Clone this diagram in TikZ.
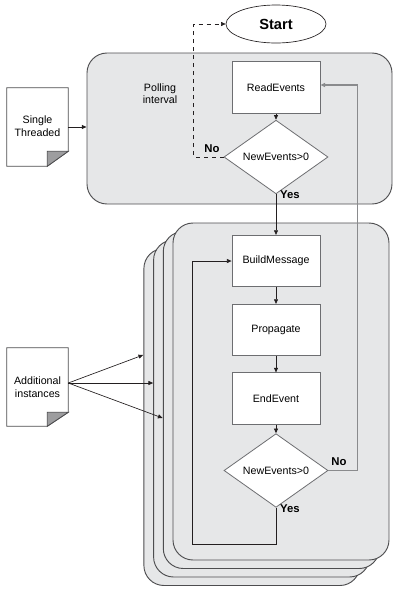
\documentclass[tikz,border=0pt]{standalone}
\usepackage{fontspec}
\setmainfont{Liberation Sans}
\usetikzlibrary{shapes.geometric,arrows.meta,calc}
\definecolor{panelfill}{HTML}{E6E7E8}
\definecolor{panelline}{HTML}{4D4D4F}
\definecolor{boxline}{HTML}{6D6E71}
\definecolor{ink}{HTML}{231F20}
\definecolor{backline}{HTML}{8A8B8D}
\definecolor{foldgray}{HTML}{9D9D9F}
\tikzset{
  panel/.style={draw=panelline, fill=panelfill, line width=0.7pt, rounded corners=15pt, inner sep=0pt},
  stepbox/.style={draw=boxline, fill=white, line width=0.6pt, minimum width=66pt, minimum height=38.5pt, inner sep=0pt, font=\fontsize{8}{10}\selectfont},
  decision/.style={diamond, draw=boxline, fill=white, line width=0.6pt, minimum width=78pt, minimum height=43.5pt, inner sep=0pt, font=\fontsize{8}{10}\selectfont},
  startnode/.style={ellipse, draw=ink, fill=white, line width=0.5pt, minimum width=75pt, minimum height=28.5pt, inner sep=0pt, font=\fontsize{11}{13}\selectfont\bfseries},
  doctext/.style={minimum width=45.75pt, minimum height=58.5pt, inner sep=0pt, align=center, font=\fontsize{8}{9.75}\selectfont},
  docline/.style={draw=panelline, fill=white, line width=0.6pt},
  flow/.style={draw=ink, line width=0.5pt, -{Triangle[length=3.5pt,width=3pt]}},
  tag/.style={font=\fontsize{8.5}{10}\selectfont\bfseries, inner sep=0pt},
  plain/.style={font=\fontsize{8}{9}\selectfont, align=center, inner sep=0pt}
}
\begin{document}
\begin{tikzpicture}[x=0.75pt,y=-0.75pt]
\useasboundingbox (0,0) rectangle (400,594);
% top panel
\node[panel, minimum width=228.75pt, minimum height=113.25pt] (top) at (239.5,128.5) {};
% stacked panels (back to front)
\node[panel, minimum width=162pt, minimum height=252.75pt] (s4) at (251.9,417) {};
\node[panel, minimum width=162pt, minimum height=252.75pt] (s3) at (261.6,408.5) {};
\node[panel, minimum width=162pt, minimum height=252.75pt] (s2) at (271.3,400) {};
\node[panel, minimum width=162pt, minimum height=252.75pt] (s1) at (281,391.5) {};
% start
\node[startnode] (start) at (276,24) {Start};
% polling label
\node[plain] (poll) at (160,94) {Polling\\interval};
% flow boxes
\node[stepbox] (re) at (276,87.5) {ReadEvents};
\node[decision] (d1) at (276,157) {NewEvents>0};
\node[stepbox] (bm) at (276,261) {BuildMessage};
\node[stepbox] (pr) at (276,330) {Propagate};
\node[stepbox] (ee) at (276,398.5) {EndEvent};
\node[decision] (d2) at (276,470.5) {NewEvents>0};
% documents
\node[doctext] (st) at (37.5,127) {};
\draw[docline] (st.north west) -- (st.north east) -- ($(st.south east)+(0,-15)$) -- ($(st.south east)+(-21,0)$) -- (st.south west) -- cycle;
\fill[foldgray, draw=panelline, line width=0.6pt] ($(st.south east)+(-21,0)$) -- ($(st.south east)+(-21,-15)$) -- ($(st.south east)+(0,-15)$) -- cycle;
\node[doctext, anchor=center] at (37.5,126.5) {Single\\Threaded};
\node[doctext] (ai) at (37.5,387) {};
\draw[docline] (ai.north west) -- (ai.north east) -- ($(ai.south east)+(0,-14)$) -- ($(ai.south east)+(-21,0)$) -- (ai.south west) -- cycle;
\fill[foldgray, draw=panelline, line width=0.6pt] ($(ai.south east)+(-21,0)$) -- ($(ai.south east)+(-21,-14)$) -- ($(ai.south east)+(0,-14)$) -- cycle;
\node[doctext] at (37.5,387.5) {Additional\\instances};
% connectors
\draw[flow] (st.east) -- (st.east -| top.west);
\coordinate (aic) at ($(ai.east)+(0,-4)$);
\coordinate (ai1) at (143.2,355);
\coordinate (ai3) at (162.6,418);
\draw[flow] (aic) -- (ai1);
\draw[flow] (aic) -- (aic -| s3.west);
\draw[flow] (aic) -- (ai3);
\draw[flow] (re.south) -- (d1.north);
\draw[flow, dashed] (d1.west) -- ++(-30,0) |- (start.west);
\draw[flow] (d1.south) -- (bm.north);
\draw[flow] (bm.south) -- (pr.north);
\draw[flow] (pr.south) -- (ee.north);
\draw[flow] (ee.south) -- (d2.north);
\coordinate (reret) at ($(re.east)+(0,-2.5)$);
\draw[flow, draw=backline, line width=0.8pt] (d2.east) -- ++(29,0) |- (reret);
\coordinate (bmret) at ($(bm.west)+(-39,0)$);
\draw[flow] (d2.south) -- ++(0,36.5) -| (bmret) -- (bm.west);
% labels
\node[tag] at (212,149) {No};
\node[tag] at (290,195) {Yes};
\node[tag] at (339,462) {No};
\node[tag] at (290,509) {Yes};
\end{tikzpicture}
\end{document}
